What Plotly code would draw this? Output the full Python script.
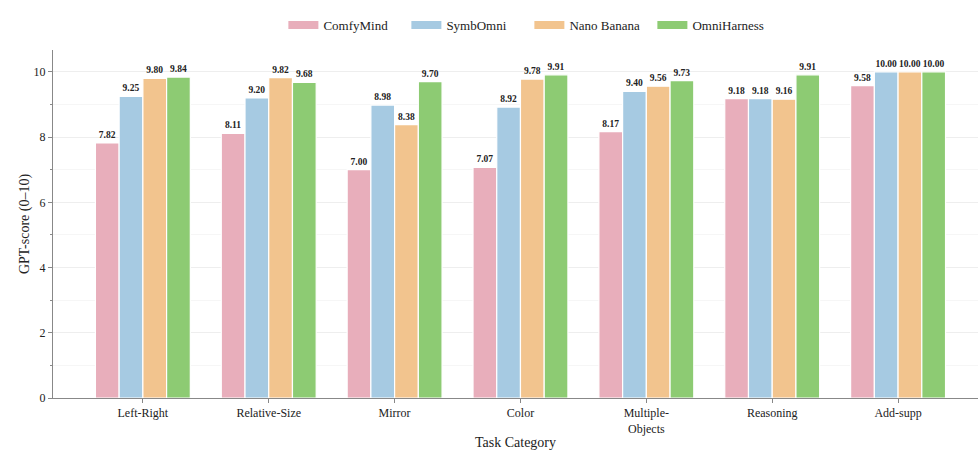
import plotly.graph_objects as go

categories = ["Left-Right", "Relative-Size", "Mirror", "Color", "Multiple-<br>Objects", "Reasoning", "Add-supp"]
series_names = ["ComfyMind", "SymbOmni", "Nano Banana", "OmniHarness"]
comfymind = [7.82, 8.11, 7.00, 7.07, 8.17, 9.18, 9.58]
symbomni = [9.25, 9.20, 8.98, 8.92, 9.40, 9.18, 10.00]
nano_banana = [9.80, 9.82, 8.38, 9.78, 9.56, 9.16, 10.00]
omniharness = [9.84, 9.68, 9.70, 9.91, 9.73, 9.91, 10.00]
y_ticks = [0, 2, 4, 6, 8, 10]

colors = ["#E8AEBB", "#A6CAE2", "#F2C48E", "#8DCB73"]
values = [comfymind, symbomni, nano_banana, omniharness]

FONT = "Liberation Serif"
fig = go.Figure()
for name, vals, col in zip(series_names, values, colors):
    fig.add_trace(go.Bar(
        name=name, x=categories, y=vals, showlegend=False,
        marker=dict(color=col, line=dict(color="white", width=1.2)),
        texttemplate="%{y:.2f}", textposition="outside", cliponaxis=False,
        textfont=dict(family=FONT, size=9.5, color="#222", weight="bold"),
    ))
# legend entries drawn as wide rectangular swatches
for name, col in zip(series_names, colors):
    fig.add_trace(go.Scatter(
        name=name, x=[None], y=[None], mode="lines",
        line=dict(color=col, width=8), showlegend=True, hoverinfo="skip",
    ))

fig.update_layout(
    width=978, height=460,
    barmode="group", bargap=0.246, bargroupgap=0,
    plot_bgcolor="white", paper_bgcolor="white",
    margin=dict(l=53, r=0, t=50, b=62),
    font=dict(family=FONT, size=13, color="#222"),
    legend=dict(orientation="h", x=0.515, xanchor="center", y=1.072, yanchor="middle",
                font=dict(family=FONT, size=13), traceorder="normal",
                entrywidth=78, entrywidthmode="pixels"),
    xaxis=dict(title=dict(text="Task Category", font=dict(size=14), standoff=2),
               showline=True, linecolor="#888", linewidth=1,
               ticks="outside", tickcolor="#888", ticklen=4,
               range=[-0.714, 6.635], tickfont=dict(size=12)),
    yaxis=dict(title=dict(text="GPT-score (0–10)", font=dict(size=14), standoff=0),
               range=[0, 10.67], tickvals=y_ticks,
               showline=True, linecolor="#888", linewidth=1,
               ticks="outside", tickcolor="#888", ticklen=4,
               showgrid=True, gridcolor="#EEEEEE", gridwidth=1, zeroline=False,
               tickfont=dict(size=12),
               minor=dict(dtick=1, tick0=1, ticks="outside", ticklen=2, tickcolor="#888",
                          showgrid=True, gridcolor="#F6F6F6")),
)

fig.write_html("out.html", config={"displayModeBar": False},
               post_script="document.body.style.margin='0';document.body.style.overflow='hidden';")
